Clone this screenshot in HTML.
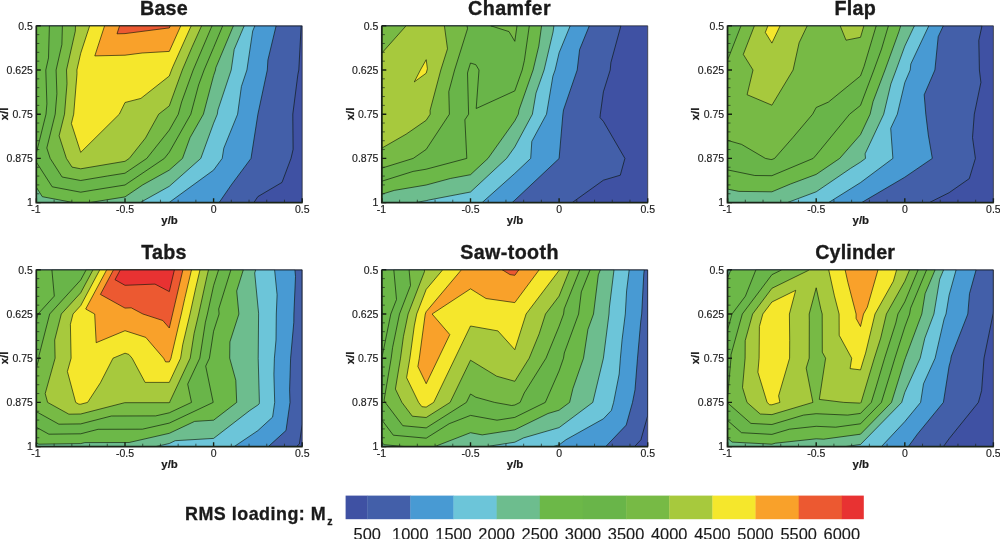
<!DOCTYPE html><html><head><meta charset="utf-8"><title>RMS loading contours</title>
<style>html,body{margin:0;padding:0;background:#fff}svg{display:block}text{font-family:"Liberation Sans",Arial,Helvetica,sans-serif;fill:#1a1a1a}.t{font-size:19.7px;font-weight:bold;text-anchor:middle;letter-spacing:.45px;stroke:#1a1a1a;stroke-width:.35px}.k{font-size:10.5px;stroke:#1a1a1a;stroke-width:.15px}.al{font-size:11.4px;font-weight:bold;text-anchor:middle;stroke:#1a1a1a;stroke-width:.2px}.cb{font-size:16.4px;text-anchor:middle;stroke:#1a1a1a;stroke-width:.15px}.cbt{font-size:17.9px;font-weight:bold;letter-spacing:.5px;stroke:#1a1a1a;stroke-width:.3px}.c{stroke:#0a1408;stroke-opacity:.78;stroke-width:.8;stroke-linejoin:round}</style></head><body>
<svg width="1000" height="539" viewBox="0 0 1000 539">
<rect width="1000" height="539" fill="#fff"/>
<clipPath id="cp0"><rect x="36.4" y="25.8" width="265.8" height="176.8"/></clipPath>
<g clip-path="url(#cp0)">
<rect x="36.4" y="25.8" width="265.8" height="176.8" fill="#3f51a3"/>
<path class="c" fill="#435fa9" d="M36.4,25.8L36.4,202.6L253.8,202.6L257.9,196.6L282.0,182.4L291.0,158.4L293.1,149.4L292.8,114.2L297.9,74.3L298.8,70.0L301.1,26.9L301.4,25.8Z"/>
<path class="c" fill="#489ad3" d="M36.4,25.8L36.4,202.6L219.1,202.6L231.3,184.9L251.0,158.4L257.9,114.2L267.3,70.0L267.9,60.0L276.1,25.8Z"/>
<path class="c" fill="#6cc5d9" d="M36.4,25.8L36.4,202.6L169.1,202.6L170.5,201.5L213.6,170.1L222.2,158.4L223.8,148.2L237.6,114.2L241.4,86.5L246.9,70.0L252.7,31.0L254.9,25.8Z"/>
<path class="c" fill="#6dbd8e" d="M244.2,25.8L36.4,25.8L36.4,202.6L140.1,202.6L169.3,186.3L200.8,158.4L213.6,123.2L217.3,114.2L217.9,110.0L231.2,70.0L234.2,49.4Z"/>
<path class="c" fill="#6cb848" d="M36.4,101.4L36.8,114.2L36.4,115.7L36.4,187.4L42.3,196.7L73.4,202.6L89.4,202.6L125.0,196.9L142.7,184.9L169.3,170.1L182.5,158.4L190.0,137.7L203.4,114.2L213.6,75.6L215.5,70.0L215.8,67.8L233.4,25.8L36.4,25.8Z"/>
<path class="c" fill="#69b549" d="M45.8,70.0L46.9,103.8L46.0,114.2L36.4,152.8L36.4,162.2L52.2,186.8L80.7,192.2L93.2,190.1L125.0,185.0L164.4,158.4L169.3,152.2L190.8,114.2L198.6,85.0L204.1,70.0L213.6,47.6L222.7,25.8L49.4,25.8L48.5,57.9Z"/>
<path class="c" fill="#77ba45" d="M56.1,70.0L56.9,93.7L55.2,114.2L46.8,148.0L50.2,158.4L62.1,177.0L80.7,180.5L107.4,176.0L125.0,173.2L146.8,158.4L169.3,130.1L178.3,114.2L181.6,102.0L193.2,70.0L210.8,28.6L212.1,25.8L62.4,25.8L61.9,44.5Z"/>
<path class="c" fill="#a7c93d" d="M66.5,70.0L67.0,83.7L64.5,114.2L59.1,135.8L66.4,158.4L72.0,167.1L80.7,168.8L125.0,161.3L129.3,158.4L145.5,138.0L158.7,114.2L169.3,105.9L182.3,70.0L191.9,47.4L201.6,25.8L75.5,25.8L75.3,31.2Z"/>
<path class="c" fill="#f5e72c" d="M80.7,53.3L76.9,70.0L77.0,73.7L73.7,114.2L71.4,123.5L80.7,152.4L119.3,114.2L125.0,102.5L140.9,98.4L169.3,76.0L171.5,70.0L173.1,66.2L191.2,25.8L89.7,25.8Z"/>
<path class="c" fill="#f9a12a" d="M169.3,51.4L180.8,25.8L104.6,25.8L94.8,55.9L125.0,55.2L142.1,53.0Z"/>
<path class="c" fill="#ec5931" d="M169.3,28.0L170.3,25.8L119.6,25.8L117.0,33.8L125.0,33.6L166.9,28.2Z"/>
</g>
<path d="M36.4,34.64h2.9M36.4,43.48h2.9M36.4,52.32h2.9M36.4,61.16h2.9M36.4,78.84h2.9M36.4,87.68h2.9M36.4,96.52h2.9M36.4,105.36h2.9M36.4,123.04h2.9M36.4,131.88h2.9M36.4,140.72h2.9M36.4,149.56h2.9M36.4,167.24h2.9M36.4,176.08h2.9M36.4,184.92h2.9M36.4,193.76h2.9" stroke="#1c2a1c" stroke-width="0.7" fill="none"/>
<path d="M36.4,25.80h4.4M36.4,70.00h4.4M36.4,114.20h4.4M36.4,158.40h4.4M36.4,202.60h4.4" stroke="#14200f" stroke-width="1.4" fill="none"/>
<path d="M54.12,202.6v-2.9M71.84,202.6v-2.9M89.56,202.6v-2.9M107.28,202.6v-2.9M142.72,202.6v-2.9M160.44,202.6v-2.9M178.16,202.6v-2.9M195.88,202.6v-2.9M231.32,202.6v-2.9M249.04,202.6v-2.9M266.76,202.6v-2.9M284.48,202.6v-2.9" stroke="#1c2a1c" stroke-width="0.7" fill="none"/>
<path d="M36.40,202.6v-4.4M125.00,202.6v-4.4M213.60,202.6v-4.4M302.20,202.6v-4.4" stroke="#14200f" stroke-width="1.4" fill="none"/>
<path d="M36.4,25.8H302.2V202.6" stroke="#1a2030" stroke-width="0.8" fill="none"/>
<path d="M36.3,25.4V202.6H302.6" stroke="#1a2418" stroke-width="1.7" fill="none"/>
<text class="t" style="letter-spacing:0.25px" x="164.0" y="14.7">Base</text>
<text class="k" text-anchor="end" x="32.9" y="29.6">0.5</text>
<text class="k" text-anchor="end" x="32.9" y="73.8">0.625</text>
<text class="k" text-anchor="end" x="32.9" y="118.0">0.75</text>
<text class="k" text-anchor="end" x="32.9" y="162.2">0.875</text>
<text class="k" text-anchor="end" x="32.9" y="206.4">1</text>
<text class="k" text-anchor="middle" x="35.9" y="212.9">-1</text>
<text class="k" text-anchor="middle" x="125.0" y="212.9">-0.5</text>
<text class="k" text-anchor="middle" x="213.6" y="212.9">0</text>
<text class="k" text-anchor="middle" x="302.2" y="212.9">0.5</text>
<text class="al" x="169.6" y="223.9">y/b</text>
<text class="al" transform="translate(8.0,114.0) rotate(-90)">x/l</text>
<clipPath id="cp1"><rect x="381.9" y="25.8" width="265.8" height="176.8"/></clipPath>
<g clip-path="url(#cp1)">
<rect x="381.9" y="25.8" width="265.8" height="176.8" fill="#3f51a3"/>
<path class="c" fill="#435fa9" d="M381.9,25.8L381.9,202.6L572.2,202.6L603.4,180.2L620.3,175.2L624.9,158.4L603.4,121.4L600.0,117.6L600.3,114.2L603.4,91.8L610.2,70.0L610.9,62.5L620.9,25.8Z"/>
<path class="c" fill="#489ad3" d="M381.9,25.8L381.9,202.6L512.1,202.6L514.8,200.2L559.1,158.5L562.9,114.2L563.5,109.9L577.2,70.0L579.6,49.6L589.3,25.8Z"/>
<path class="c" fill="#6cc5d9" d="M381.9,25.8L381.9,202.6L482.1,202.6L514.8,173.4L530.7,158.4L531.8,141.4L546.5,114.2L552.9,76.2L555.1,70.0L559.1,52.8L570.2,25.8Z"/>
<path class="c" fill="#6dbd8e" d="M381.9,25.8L381.9,202.6L415.0,202.6L426.2,200.7L428.8,200.0L470.5,192.0L506.6,158.4L514.8,146.9L532.4,114.2L536.0,93.1L544.1,70.0L553.1,31.8L553.9,25.8Z"/>
<path class="c" fill="#6cb848" d="M381.9,25.8L381.9,194.2L394.2,190.4L426.2,185.0L450.3,178.5L470.5,174.7L488.0,158.4L514.8,120.8L518.3,114.2L519.0,110.0L533.1,70.0L538.8,46.1L541.6,25.8Z"/>
<path class="c" fill="#69b549" d="M381.9,25.8L381.9,181.2L413.1,171.4L426.2,169.2L466.8,158.4L464.9,119.8L468.6,114.2L467.5,73.0L468.3,70.0L470.5,63.0L475.8,64.7L479.0,70.0L476.2,108.5L514.8,90.9L522.2,70.0L524.4,60.4L529.3,25.8Z"/>
<path class="c" fill="#77ba45" d="M381.9,25.8L381.9,70.0L381.9,168.1L413.2,158.4L426.2,149.4L449.4,114.2L448.8,91.6L454.6,70.0L467.5,28.8L467.1,25.8ZM517.0,25.8L490.8,25.8L490.8,25.8L509.0,31.6L514.8,41.3Z"/>
<path class="c" fill="#a7c93d" d="M381.9,53.0L381.9,70.0L381.9,148.1L406.1,134.2L426.2,120.3L430.2,114.2L430.1,110.3L440.8,70.0L447.5,48.8L444.4,25.8L406.1,25.8Z"/>
<path class="c" fill="#f5e72c" d="M426.2,59.7L420.4,70.0L414.3,81.9L426.2,73.2L427.4,68.8Z"/>
</g>
<path d="M381.9,34.64h2.9M381.9,43.48h2.9M381.9,52.32h2.9M381.9,61.16h2.9M381.9,78.84h2.9M381.9,87.68h2.9M381.9,96.52h2.9M381.9,105.36h2.9M381.9,123.04h2.9M381.9,131.88h2.9M381.9,140.72h2.9M381.9,149.56h2.9M381.9,167.24h2.9M381.9,176.08h2.9M381.9,184.92h2.9M381.9,193.76h2.9" stroke="#1c2a1c" stroke-width="0.7" fill="none"/>
<path d="M381.9,25.80h4.4M381.9,70.00h4.4M381.9,114.20h4.4M381.9,158.40h4.4M381.9,202.60h4.4" stroke="#14200f" stroke-width="1.4" fill="none"/>
<path d="M399.62,202.6v-2.9M417.34,202.6v-2.9M435.06,202.6v-2.9M452.78,202.6v-2.9M488.22,202.6v-2.9M505.94,202.6v-2.9M523.66,202.6v-2.9M541.38,202.6v-2.9M576.82,202.6v-2.9M594.54,202.6v-2.9M612.26,202.6v-2.9M629.98,202.6v-2.9" stroke="#1c2a1c" stroke-width="0.7" fill="none"/>
<path d="M381.90,202.6v-4.4M470.50,202.6v-4.4M559.10,202.6v-4.4M647.70,202.6v-4.4" stroke="#14200f" stroke-width="1.4" fill="none"/>
<path d="M381.9,25.8H647.7V202.6" stroke="#1a2030" stroke-width="0.8" fill="none"/>
<path d="M381.8,25.4V202.6H648.1" stroke="#1a2418" stroke-width="1.7" fill="none"/>
<text class="t" style="letter-spacing:0.45px" x="509.5" y="14.7">Chamfer</text>
<text class="k" text-anchor="end" x="378.4" y="29.6">0.5</text>
<text class="k" text-anchor="end" x="378.4" y="73.8">0.625</text>
<text class="k" text-anchor="end" x="378.4" y="118.0">0.75</text>
<text class="k" text-anchor="end" x="378.4" y="162.2">0.875</text>
<text class="k" text-anchor="end" x="378.4" y="206.4">1</text>
<text class="k" text-anchor="middle" x="381.4" y="212.9">-1</text>
<text class="k" text-anchor="middle" x="470.5" y="212.9">-0.5</text>
<text class="k" text-anchor="middle" x="559.1" y="212.9">0</text>
<text class="k" text-anchor="middle" x="647.7" y="212.9">0.5</text>
<text class="al" x="515.1" y="223.9">y/b</text>
<text class="al" transform="translate(353.5,114.0) rotate(-90)">x/l</text>
<clipPath id="cp2"><rect x="727.6" y="25.8" width="265.8" height="176.8"/></clipPath>
<g clip-path="url(#cp2)">
<rect x="727.6" y="25.8" width="265.8" height="176.8" fill="#3f51a3"/>
<path class="c" fill="#435fa9" d="M727.6,25.8L727.6,202.6L929.3,202.6L949.1,192.7L969.3,178.6L975.4,158.4L972.5,137.5L974.3,114.2L980.9,82.4L979.4,70.0L978.8,40.3L982.0,25.8Z"/>
<path class="c" fill="#489ad3" d="M943.3,25.8L727.6,25.8L727.6,202.6L861.6,202.6L904.8,177.2L932.3,158.4L928.3,134.9L925.8,114.2L924.2,94.8L934.9,70.0L938.2,36.7Z"/>
<path class="c" fill="#6cc5d9" d="M727.6,25.8L727.6,202.6L828.6,202.6L860.5,182.6L892.9,158.4L890.7,128.3L897.3,114.2L904.8,82.6L910.2,70.0L910.8,64.0L928.8,25.8Z"/>
<path class="c" fill="#6dbd8e" d="M727.6,25.8L727.6,202.6L787.3,202.6L816.2,191.8L850.5,168.4L860.5,162.1L865.5,158.4L865.1,153.8L883.7,114.2L890.9,83.9L896.1,70.0L904.8,46.1L914.4,25.8Z"/>
<path class="c" fill="#6cb848" d="M727.6,25.8L727.6,189.1L738.8,191.4L771.9,191.8L790.5,184.0L816.2,174.4L839.7,158.4L860.5,134.6L870.1,114.2L873.0,101.7L885.0,70.0L898.9,31.7L900.7,25.8Z"/>
<path class="c" fill="#69b549" d="M727.6,25.8L727.6,169.9L754.8,175.5L771.9,175.7L813.2,158.4L816.2,155.0L849.6,114.2L860.5,105.4L873.9,70.0L881.5,49.1L888.4,25.8Z"/>
<path class="c" fill="#77ba45" d="M727.6,60.1L727.6,140.4L741.6,144.4L765.4,158.4L770.8,159.5L771.9,159.5L774.6,158.4L792.9,137.5L812.6,114.2L816.2,107.5L828.4,102.1L860.5,75.9L864.0,66.5L876.2,25.8L741.0,25.8Z"/>
<path class="c" fill="#a7c93d" d="M846.0,40.2L860.5,37.3L863.9,25.8L840.2,25.8ZM743.3,54.4L753.0,70.0L747.1,94.7L771.9,105.2L793.1,70.0L799.1,42.8L807.2,25.8L754.4,25.8Z"/>
<path class="c" fill="#f5e72c" d="M765.3,32.4L771.9,43.1L780.1,25.8L767.9,25.8Z"/>
</g>
<path d="M727.6,34.64h2.9M727.6,43.48h2.9M727.6,52.32h2.9M727.6,61.16h2.9M727.6,78.84h2.9M727.6,87.68h2.9M727.6,96.52h2.9M727.6,105.36h2.9M727.6,123.04h2.9M727.6,131.88h2.9M727.6,140.72h2.9M727.6,149.56h2.9M727.6,167.24h2.9M727.6,176.08h2.9M727.6,184.92h2.9M727.6,193.76h2.9" stroke="#1c2a1c" stroke-width="0.7" fill="none"/>
<path d="M727.6,25.80h4.4M727.6,70.00h4.4M727.6,114.20h4.4M727.6,158.40h4.4M727.6,202.60h4.4" stroke="#14200f" stroke-width="1.4" fill="none"/>
<path d="M745.32,202.6v-2.9M763.04,202.6v-2.9M780.76,202.6v-2.9M798.48,202.6v-2.9M833.92,202.6v-2.9M851.64,202.6v-2.9M869.36,202.6v-2.9M887.08,202.6v-2.9M922.52,202.6v-2.9M940.24,202.6v-2.9M957.96,202.6v-2.9M975.68,202.6v-2.9" stroke="#1c2a1c" stroke-width="0.7" fill="none"/>
<path d="M727.60,202.6v-4.4M816.20,202.6v-4.4M904.80,202.6v-4.4M993.40,202.6v-4.4" stroke="#14200f" stroke-width="1.4" fill="none"/>
<path d="M727.6,25.8H993.4V202.6" stroke="#1a2030" stroke-width="0.8" fill="none"/>
<path d="M727.5,25.4V202.6H993.8" stroke="#1a2418" stroke-width="1.7" fill="none"/>
<text class="t" style="letter-spacing:0.25px" x="855.2" y="14.7">Flap</text>
<text class="k" text-anchor="end" x="724.1" y="29.6">0.5</text>
<text class="k" text-anchor="end" x="724.1" y="73.8">0.625</text>
<text class="k" text-anchor="end" x="724.1" y="118.0">0.75</text>
<text class="k" text-anchor="end" x="724.1" y="162.2">0.875</text>
<text class="k" text-anchor="end" x="724.1" y="206.4">1</text>
<text class="k" text-anchor="middle" x="727.1" y="212.9">-1</text>
<text class="k" text-anchor="middle" x="816.2" y="212.9">-0.5</text>
<text class="k" text-anchor="middle" x="904.8" y="212.9">0</text>
<text class="k" text-anchor="middle" x="993.4" y="212.9">0.5</text>
<text class="al" x="860.8" y="223.9">y/b</text>
<text class="al" transform="translate(699.2,114.0) rotate(-90)">x/l</text>
<clipPath id="cp3"><rect x="36.4" y="269.8" width="265.8" height="176.8"/></clipPath>
<g clip-path="url(#cp3)">
<rect x="36.4" y="269.8" width="265.8" height="176.8" fill="#3f51a3"/>
<path class="c" fill="#435fa9" d="M36.4,269.8L36.4,446.6L296.4,446.6L299.4,443.9L302.2,424.2L302.2,269.8Z"/>
<path class="c" fill="#489ad3" d="M36.4,269.8L36.4,446.6L268.3,446.6L286.0,430.5L290.0,402.4L289.6,389.9L290.6,358.2L293.8,322.3L293.9,314.0L295.5,276.4L294.9,269.8Z"/>
<path class="c" fill="#6cc5d9" d="M36.4,269.8L36.4,446.6L234.2,446.6L257.9,430.6L272.6,417.1L274.7,402.4L273.9,374.2L274.4,358.2L276.0,340.1L276.3,314.0L277.1,294.8L274.6,269.8Z"/>
<path class="c" fill="#6dbd8e" d="M36.4,269.8L36.4,446.6L155.7,446.6L169.3,443.5L175.2,440.7L213.6,438.4L249.9,410.4L257.9,405.0L259.2,403.8L259.4,402.4L258.2,358.5L258.6,313.2L254.7,273.0L255.7,269.8Z"/>
<path class="c" fill="#6cb848" d="M36.4,269.8L36.4,442.8L38.8,444.2L80.7,443.6L84.8,442.6L129.1,442.5L169.3,433.3L194.6,421.4L213.6,420.2L236.7,402.4L235.8,380.3L229.7,358.2L229.9,341.9L238.9,314.0L236.7,291.0L243.3,269.8Z"/>
<path class="c" fill="#69b549" d="M230.9,269.8L51.9,269.8L54.3,296.1L38.0,314.0L36.4,320.2L36.4,427.3L48.9,434.2L80.7,433.8L98.1,429.3L142.4,429.2L169.3,423.1L213.2,402.4L205.7,366.1L209.4,358.2L213.6,331.2L219.1,314.0L218.7,309.0Z"/>
<path class="c" fill="#77ba45" d="M49.7,314.0L39.0,355.6L39.1,358.2L36.4,367.9L36.4,411.7L58.9,424.2L80.7,423.9L111.4,416.0L155.7,415.9L169.3,412.8L191.5,402.4L187.7,384.1L199.8,358.2L205.4,322.2L207.4,314.0L213.6,285.6L218.6,269.8L86.2,269.8L80.7,280.0Z"/>
<path class="c" fill="#a7c93d" d="M61.3,314.0L54.7,340.0L55.1,358.2L45.2,393.6L47.6,402.4L68.9,414.2L80.7,414.0L124.7,402.7L169.0,402.7L169.3,402.6L169.8,402.4L169.7,402.0L190.2,358.2L194.1,333.5L198.7,314.0L206.9,276.5L208.5,269.8L93.0,269.8L80.7,292.8Z"/>
<path class="c" fill="#f5e72c" d="M73.0,314.0L70.4,324.3L71.1,358.2L67.4,371.5L75.7,402.4L78.9,404.2L80.7,404.2L87.6,402.4L100.4,382.8L113.0,358.2L125.0,353.2L128.8,354.4L132.1,358.2L145.1,382.4L169.3,382.4L180.6,358.2L182.7,344.8L190.0,314.0L195.8,287.6L200.0,269.8L99.8,269.8L80.7,305.6Z"/>
<path class="c" fill="#f9a12a" d="M85.7,309.0L94.7,314.0L96.2,342.7L125.0,330.7L145.8,337.4L163.6,358.2L165.6,361.9L169.3,361.9L171.0,358.2L171.4,356.2L181.3,314.0L184.7,298.7L191.5,269.8L106.7,269.8Z"/>
<path class="c" fill="#ec5931" d="M100.4,294.4L125.0,308.1L131.2,307.8L142.9,314.0L162.8,320.5L169.3,328.0L182.9,269.8L113.5,269.8Z"/>
<path class="c" fill="#e83232" d="M115.0,279.7L125.0,285.3L155.0,284.1L169.3,291.6L174.4,269.8L120.3,269.8Z"/>
</g>
<path d="M36.4,278.64h2.9M36.4,287.48h2.9M36.4,296.32h2.9M36.4,305.16h2.9M36.4,322.84h2.9M36.4,331.68h2.9M36.4,340.52h2.9M36.4,349.36h2.9M36.4,367.04h2.9M36.4,375.88h2.9M36.4,384.72h2.9M36.4,393.56h2.9M36.4,411.24h2.9M36.4,420.08h2.9M36.4,428.92h2.9M36.4,437.76h2.9" stroke="#1c2a1c" stroke-width="0.7" fill="none"/>
<path d="M36.4,269.80h4.4M36.4,314.00h4.4M36.4,358.20h4.4M36.4,402.40h4.4M36.4,446.60h4.4" stroke="#14200f" stroke-width="1.4" fill="none"/>
<path d="M54.12,446.6v-2.9M71.84,446.6v-2.9M89.56,446.6v-2.9M107.28,446.6v-2.9M142.72,446.6v-2.9M160.44,446.6v-2.9M178.16,446.6v-2.9M195.88,446.6v-2.9M231.32,446.6v-2.9M249.04,446.6v-2.9M266.76,446.6v-2.9M284.48,446.6v-2.9" stroke="#1c2a1c" stroke-width="0.7" fill="none"/>
<path d="M36.40,446.6v-4.4M125.00,446.6v-4.4M213.60,446.6v-4.4M302.20,446.6v-4.4" stroke="#14200f" stroke-width="1.4" fill="none"/>
<path d="M36.4,269.8H302.2V446.6" stroke="#1a2030" stroke-width="0.8" fill="none"/>
<path d="M36.3,269.4V446.6H302.6" stroke="#1a2418" stroke-width="1.7" fill="none"/>
<text class="t" style="letter-spacing:0.30px" x="164.0" y="258.7">Tabs</text>
<text class="k" text-anchor="end" x="32.9" y="273.6">0.5</text>
<text class="k" text-anchor="end" x="32.9" y="317.8">0.625</text>
<text class="k" text-anchor="end" x="32.9" y="362.0">0.75</text>
<text class="k" text-anchor="end" x="32.9" y="406.2">0.875</text>
<text class="k" text-anchor="end" x="32.9" y="450.4">1</text>
<text class="k" text-anchor="middle" x="35.9" y="456.9">-1</text>
<text class="k" text-anchor="middle" x="125.0" y="456.9">-0.5</text>
<text class="k" text-anchor="middle" x="213.6" y="456.9">0</text>
<text class="k" text-anchor="middle" x="302.2" y="456.9">0.5</text>
<text class="al" x="169.6" y="467.9">y/b</text>
<text class="al" transform="translate(8.0,358.0) rotate(-90)">x/l</text>
<clipPath id="cp4"><rect x="381.9" y="269.8" width="265.8" height="176.8"/></clipPath>
<g clip-path="url(#cp4)">
<rect x="381.9" y="269.8" width="265.8" height="176.8" fill="#3f51a3"/>
<path class="c" fill="#435fa9" d="M381.9,269.8L381.9,446.6L634.5,446.6L640.9,439.8L647.7,415.7L647.7,269.8Z"/>
<path class="c" fill="#489ad3" d="M381.9,269.8L381.9,446.6L605.7,446.6L626.2,425.1L632.5,402.4L635.0,389.8L637.5,358.2L640.8,320.9L641.7,314.0L643.8,273.7L644.3,269.8Z"/>
<path class="c" fill="#6cc5d9" d="M381.9,269.8L381.9,446.6L553.1,446.6L559.1,444.9L566.0,439.7L603.4,418.8L611.4,410.4L613.6,402.4L619.2,374.0L620.4,358.2L622.1,339.6L625.3,314.0L626.6,290.9L629.2,269.8Z"/>
<path class="c" fill="#6dbd8e" d="M381.9,269.8L381.9,446.6L486.4,446.6L514.8,442.2L523.5,437.9L559.1,427.6L592.8,402.4L603.4,358.2L609.0,314.0L609.3,308.1L614.0,269.8Z"/>
<path class="c" fill="#6cb848" d="M381.9,315.6L381.9,442.1L383.8,444.7L404.8,446.6L434.7,446.6L470.5,432.7L482.2,434.9L514.8,429.8L548.0,413.5L559.1,410.2L569.6,402.4L572.9,388.6L583.5,358.2L587.9,329.5L593.5,314.0L598.3,274.9L600.3,269.8L381.9,269.8L381.9,307.5L382.4,313.5L382.2,314.0Z"/>
<path class="c" fill="#69b549" d="M590.1,269.8L393.8,269.8L396.5,299.5L390.8,314.0L381.9,357.8L381.9,358.2L381.9,420.0L393.3,435.2L426.2,438.2L449.2,423.7L470.5,415.4L497.0,420.2L514.8,417.4L545.3,402.4L559.1,370.9L563.5,358.2L564.3,353.0L578.6,314.0L581.3,291.9Z"/>
<path class="c" fill="#77ba45" d="M579.8,269.8L409.1,269.8L410.5,285.5L399.5,314.0L392.6,347.5L391.2,358.2L384.1,400.2L385.2,402.4L402.8,425.7L426.2,427.9L466.4,402.4L470.5,394.0L475.8,397.2L494.5,402.4L511.7,405.5L514.8,405.0L520.1,402.4L524.2,393.0L546.0,358.2L559.1,326.3L563.6,314.0L564.2,308.9Z"/>
<path class="c" fill="#a7c93d" d="M408.1,314.0L403.4,336.7L400.5,358.2L395.4,389.0L401.9,402.4L412.3,416.2L426.2,417.5L450.1,402.4L470.5,360.2L496.7,376.2L514.8,381.3L529.2,358.2L539.2,333.8L545.5,314.0L559.1,296.1L569.6,269.8L424.4,269.8L424.5,271.5Z"/>
<path class="c" fill="#f5e72c" d="M416.7,314.0L414.3,325.9L409.9,358.2L406.6,377.7L418.6,402.4L421.9,406.7L426.2,407.1L433.7,402.4L470.5,326.0L497.9,330.9L514.8,349.7L526.1,314.0L559.1,270.4L559.3,269.8L442.7,269.8L426.2,289.4Z"/>
<path class="c" fill="#f9a12a" d="M425.3,314.0L425.1,315.1L419.3,358.2L417.9,366.5L426.2,383.7L449.8,334.6L432.1,314.0L470.5,288.8L486.0,298.5L514.8,302.6L539.2,269.8L461.4,269.8L426.2,311.7Z"/>
<path class="c" fill="#ec5931" d="M510.0,274.6L514.8,275.3L518.9,269.8L502.3,269.8Z"/>
</g>
<path d="M381.9,278.64h2.9M381.9,287.48h2.9M381.9,296.32h2.9M381.9,305.16h2.9M381.9,322.84h2.9M381.9,331.68h2.9M381.9,340.52h2.9M381.9,349.36h2.9M381.9,367.04h2.9M381.9,375.88h2.9M381.9,384.72h2.9M381.9,393.56h2.9M381.9,411.24h2.9M381.9,420.08h2.9M381.9,428.92h2.9M381.9,437.76h2.9" stroke="#1c2a1c" stroke-width="0.7" fill="none"/>
<path d="M381.9,269.80h4.4M381.9,314.00h4.4M381.9,358.20h4.4M381.9,402.40h4.4M381.9,446.60h4.4" stroke="#14200f" stroke-width="1.4" fill="none"/>
<path d="M399.62,446.6v-2.9M417.34,446.6v-2.9M435.06,446.6v-2.9M452.78,446.6v-2.9M488.22,446.6v-2.9M505.94,446.6v-2.9M523.66,446.6v-2.9M541.38,446.6v-2.9M576.82,446.6v-2.9M594.54,446.6v-2.9M612.26,446.6v-2.9M629.98,446.6v-2.9" stroke="#1c2a1c" stroke-width="0.7" fill="none"/>
<path d="M381.90,446.6v-4.4M470.50,446.6v-4.4M559.10,446.6v-4.4M647.70,446.6v-4.4" stroke="#14200f" stroke-width="1.4" fill="none"/>
<path d="M381.9,269.8H647.7V446.6" stroke="#1a2030" stroke-width="0.8" fill="none"/>
<path d="M381.8,269.4V446.6H648.1" stroke="#1a2418" stroke-width="1.7" fill="none"/>
<text class="t" style="letter-spacing:0.40px" x="509.5" y="258.7">Saw-tooth</text>
<text class="k" text-anchor="end" x="378.4" y="273.6">0.5</text>
<text class="k" text-anchor="end" x="378.4" y="317.8">0.625</text>
<text class="k" text-anchor="end" x="378.4" y="362.0">0.75</text>
<text class="k" text-anchor="end" x="378.4" y="406.2">0.875</text>
<text class="k" text-anchor="end" x="378.4" y="450.4">1</text>
<text class="k" text-anchor="middle" x="381.4" y="456.9">-1</text>
<text class="k" text-anchor="middle" x="470.5" y="456.9">-0.5</text>
<text class="k" text-anchor="middle" x="559.1" y="456.9">0</text>
<text class="k" text-anchor="middle" x="647.7" y="456.9">0.5</text>
<text class="al" x="515.1" y="467.9">y/b</text>
<text class="al" transform="translate(353.5,358.0) rotate(-90)">x/l</text>
<clipPath id="cp5"><rect x="727.6" y="269.8" width="265.8" height="176.8"/></clipPath>
<g clip-path="url(#cp5)">
<rect x="727.6" y="269.8" width="265.8" height="176.8" fill="#3f51a3"/>
<path class="c" fill="#435fa9" d="M727.6,269.8L727.6,446.6L943.4,446.6L949.1,438.7L978.4,402.4L981.6,390.6L984.0,358.2L993.0,314.4L993.2,314.0L993.4,311.0L993.4,269.8Z"/>
<path class="c" fill="#489ad3" d="M727.6,269.8L727.6,446.6L908.3,446.6L917.5,434.0L943.4,402.4L949.1,366.1L950.8,359.9L950.9,358.2L951.4,356.0L967.8,314.0L969.5,293.6L976.1,269.8Z"/>
<path class="c" fill="#6cc5d9" d="M956.1,269.8L727.6,269.8L727.6,446.6L881.4,446.6L904.8,421.6L920.6,402.4L923.5,383.8L935.1,358.2L944.1,319.0L946.0,314.0L949.1,295.2Z"/>
<path class="c" fill="#6dbd8e" d="M727.6,269.8L727.6,446.6L845.2,446.6L860.5,444.5L901.7,402.4L904.8,392.3L920.2,358.2L924.8,338.2L933.9,314.0L939.7,279.2L943.6,269.8Z"/>
<path class="c" fill="#6cb848" d="M727.6,278.0L727.6,438.2L732.1,442.1L771.9,444.2L775.3,443.2L816.2,438.8L823.6,439.2L860.5,434.2L891.5,402.4L904.8,359.5L905.4,358.2L905.6,357.4L921.8,314.0L925.1,293.7L935.1,269.8L730.8,269.8Z"/>
<path class="c" fill="#69b549" d="M926.6,269.8L755.9,269.8L745.4,296.2L732.0,314.0L727.6,330.0L727.6,420.5L741.5,432.7L771.9,434.4L789.4,429.2L816.2,426.3L835.7,427.2L860.5,423.8L881.4,402.4L890.7,372.2L894.9,358.2L904.8,327.0L909.6,314.0L910.6,308.2Z"/>
<path class="c" fill="#77ba45" d="M771.9,274.7L742.3,314.0L731.0,354.8L731.0,358.2L727.6,397.5L727.6,402.9L750.9,423.4L771.9,424.5L803.5,415.1L816.2,413.7L847.7,415.1L860.5,413.4L871.3,402.4L876.1,386.9L884.6,358.2L895.8,323.0L897.9,314.0L904.8,301.8L918.1,269.8L781.9,269.8Z"/>
<path class="c" fill="#a7c93d" d="M909.6,269.8L809.6,269.8L771.9,288.3L752.6,314.0L745.2,340.7L745.1,358.2L742.5,387.5L747.0,402.4L760.2,414.0L771.9,414.6L812.9,402.4L806.2,368.1L809.2,358.2L809.3,320.9L809.2,314.0L816.2,287.8L820.9,309.3L822.2,314.0L822.3,352.2L825.6,358.2L819.3,399.4L843.8,402.4L859.7,403.1L860.5,403.0L861.1,402.4L874.3,358.2L880.7,338.1L886.4,314.0L904.8,281.3Z"/>
<path class="c" fill="#f5e72c" d="M771.9,302.0L762.8,314.0L759.4,326.5L759.1,358.2L757.9,372.2L767.1,402.4L769.6,404.7L771.9,404.8L779.9,402.4L778.6,395.8L789.6,358.2L789.7,340.4L789.4,314.0L795.7,290.3ZM834.4,295.8L839.1,314.0L839.2,335.3L851.7,358.2L850.1,368.6L860.5,369.9L864.0,358.2L865.6,353.1L875.0,314.0L893.4,281.2L896.6,269.8L828.7,269.8Z"/>
<path class="c" fill="#f9a12a" d="M847.9,282.4L856.1,314.0L856.1,318.4L860.5,326.5L863.5,314.0L867.3,307.2L878.0,269.8L845.1,269.8Z"/>
</g>
<path d="M727.6,278.64h2.9M727.6,287.48h2.9M727.6,296.32h2.9M727.6,305.16h2.9M727.6,322.84h2.9M727.6,331.68h2.9M727.6,340.52h2.9M727.6,349.36h2.9M727.6,367.04h2.9M727.6,375.88h2.9M727.6,384.72h2.9M727.6,393.56h2.9M727.6,411.24h2.9M727.6,420.08h2.9M727.6,428.92h2.9M727.6,437.76h2.9" stroke="#1c2a1c" stroke-width="0.7" fill="none"/>
<path d="M727.6,269.80h4.4M727.6,314.00h4.4M727.6,358.20h4.4M727.6,402.40h4.4M727.6,446.60h4.4" stroke="#14200f" stroke-width="1.4" fill="none"/>
<path d="M745.32,446.6v-2.9M763.04,446.6v-2.9M780.76,446.6v-2.9M798.48,446.6v-2.9M833.92,446.6v-2.9M851.64,446.6v-2.9M869.36,446.6v-2.9M887.08,446.6v-2.9M922.52,446.6v-2.9M940.24,446.6v-2.9M957.96,446.6v-2.9M975.68,446.6v-2.9" stroke="#1c2a1c" stroke-width="0.7" fill="none"/>
<path d="M727.60,446.6v-4.4M816.20,446.6v-4.4M904.80,446.6v-4.4M993.40,446.6v-4.4" stroke="#14200f" stroke-width="1.4" fill="none"/>
<path d="M727.6,269.8H993.4V446.6" stroke="#1a2030" stroke-width="0.8" fill="none"/>
<path d="M727.5,269.4V446.6H993.8" stroke="#1a2418" stroke-width="1.7" fill="none"/>
<text class="t" style="letter-spacing:0.15px" x="855.2" y="258.7">Cylinder</text>
<text class="k" text-anchor="end" x="724.1" y="273.6">0.5</text>
<text class="k" text-anchor="end" x="724.1" y="317.8">0.625</text>
<text class="k" text-anchor="end" x="724.1" y="362.0">0.75</text>
<text class="k" text-anchor="end" x="724.1" y="406.2">0.875</text>
<text class="k" text-anchor="end" x="724.1" y="450.4">1</text>
<text class="k" text-anchor="middle" x="727.1" y="456.9">-1</text>
<text class="k" text-anchor="middle" x="816.2" y="456.9">-0.5</text>
<text class="k" text-anchor="middle" x="904.8" y="456.9">0</text>
<text class="k" text-anchor="middle" x="993.4" y="456.9">0.5</text>
<text class="al" x="860.8" y="467.9">y/b</text>
<text class="al" transform="translate(699.2,358.0) rotate(-90)">x/l</text>
<rect x="345.60" y="495.6" width="21.90" height="23.6" fill="#3f51a3"/>
<rect x="367.20" y="495.6" width="43.45" height="23.6" fill="#435fa9"/>
<rect x="410.35" y="495.6" width="43.45" height="23.6" fill="#489ad3"/>
<rect x="453.50" y="495.6" width="43.45" height="23.6" fill="#6cc5d9"/>
<rect x="496.65" y="495.6" width="43.45" height="23.6" fill="#6dbd8e"/>
<rect x="539.80" y="495.6" width="43.45" height="23.6" fill="#6cb848"/>
<rect x="582.95" y="495.6" width="43.45" height="23.6" fill="#69b549"/>
<rect x="626.10" y="495.6" width="43.45" height="23.6" fill="#77ba45"/>
<rect x="669.25" y="495.6" width="43.45" height="23.6" fill="#a7c93d"/>
<rect x="712.40" y="495.6" width="43.45" height="23.6" fill="#f5e72c"/>
<rect x="755.55" y="495.6" width="43.45" height="23.6" fill="#f9a12a"/>
<rect x="798.70" y="495.6" width="43.45" height="23.6" fill="#ec5931"/>
<rect x="841.85" y="495.6" width="21.95" height="23.6" fill="#e83232"/>
<text class="cb" x="367.2" y="539.7">500</text>
<text class="cb" x="410.3" y="539.7">1000</text>
<text class="cb" x="453.5" y="539.7">1500</text>
<text class="cb" x="496.6" y="539.7">2000</text>
<text class="cb" x="539.8" y="539.7">2500</text>
<text class="cb" x="583.0" y="539.7">3000</text>
<text class="cb" x="626.1" y="539.7">3500</text>
<text class="cb" x="669.2" y="539.7">4000</text>
<text class="cb" x="712.4" y="539.7">4500</text>
<text class="cb" x="755.5" y="539.7">5000</text>
<text class="cb" x="798.7" y="539.7">5500</text>
<text class="cb" x="841.8" y="539.7">6000</text>
<text class="cbt" x="185" y="519.9">RMS loading: M<tspan font-size="10.5px" dy="5.4" dx="1">z</tspan></text>
</svg></body></html>
